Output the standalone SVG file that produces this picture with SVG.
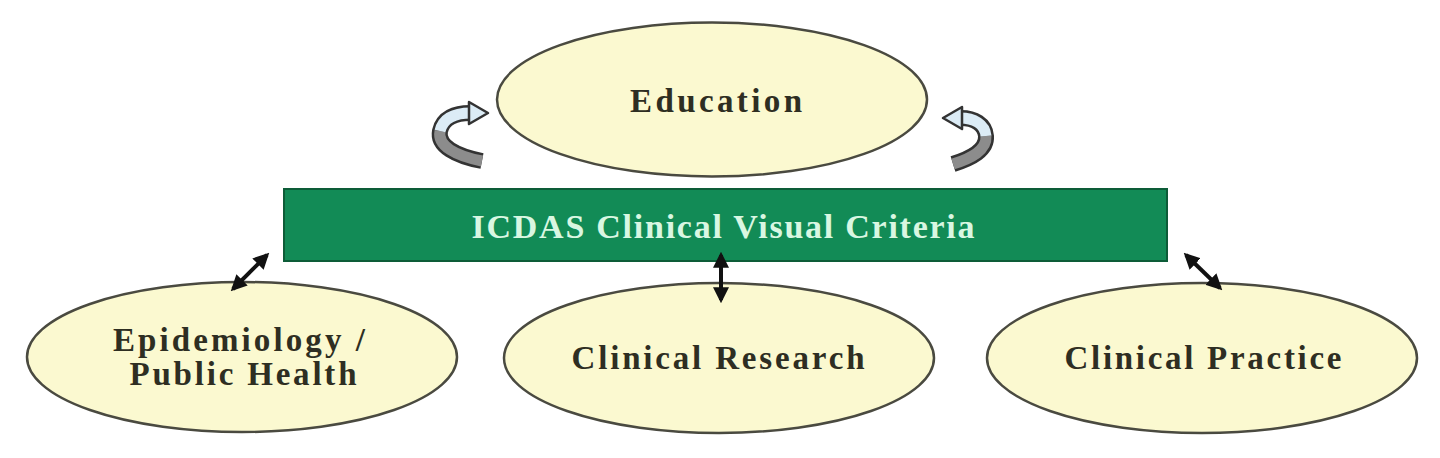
<svg xmlns="http://www.w3.org/2000/svg" width="1440" height="458" viewBox="0 0 1440 458">
<style>
.node ellipse{fill:#fbf9d0;stroke:#4a4a40;stroke-width:2.5}
.lbl{font-family:"Liberation Serif","Times New Roman",serif;font-weight:bold;font-size:33px;fill:#2e2e22;text-anchor:middle}
.bar{fill:#128b56;stroke:#0d5c38;stroke-width:2}
.barlbl{font-family:"Liberation Serif","Times New Roman",serif;font-weight:bold;font-size:34px;fill:#d9f7e2;text-anchor:middle}
.conn{stroke:#111;stroke-width:4;fill:none;marker-start:url(#ah);marker-end:url(#ah)}
.bandOut{fill:none;stroke:#333;stroke-width:16;stroke-linecap:butt}
.bandGray{fill:none;stroke:#8c8c8c;stroke-width:11;stroke-linecap:butt}
.bandBlue{fill:none;stroke:#dcecf6;stroke-width:11;stroke-linecap:butt}
.head{fill:#dcecf6;stroke:#333;stroke-width:2.5;stroke-linejoin:round}
</style>
<defs>
<marker id="ah" viewBox="0 0 10 10" refX="8" refY="5" markerWidth="4" markerHeight="4" orient="auto-start-reverse" markerUnits="strokeWidth">
<path d="M0,0 L10,5 L0,10 z" fill="#111"/>
</marker>
</defs>
<rect width="1440" height="458" fill="#ffffff"/>

<g id="education" class="node">
<ellipse cx="712" cy="99.5" rx="215" ry="77"/>
<text class="lbl" x="716" y="112" textLength="172" lengthAdjust="spacing">Education</text>
</g>

<g id="cycle-left">
<path class="bandOut" d="M482,161 C456,156 437,146 440,131 C443,118 455,113 470,113"/>
<path class="bandGray" d="M482,161 C456,156 437,146 440,131"/>
<path class="bandBlue" d="M440,131 C443,118 455,113 471,113"/>
<polygon class="head" points="469,102 488,113 469,124"/>
</g>

<g id="cycle-right">
<path class="bandOut" d="M953,164 C972,158 987,150 986,136 C985,124 974,118 961,118"/>
<path class="bandGray" d="M953,164 C972,158 987,150 986,136"/>
<path class="bandBlue" d="M986,136 C985,124 974,118 960,118"/>
<polygon class="head" points="962,107 943,118 962,129"/>
</g>

<g id="icdas">
<rect class="bar" x="284" y="189" width="883" height="72"/>
<text class="barlbl" x="723" y="238" textLength="503" lengthAdjust="spacing">ICDAS Clinical Visual Criteria</text>
</g>

<g id="epidemiology" class="node">
<ellipse cx="242" cy="357" rx="215" ry="75"/>
<text class="lbl" x="239" y="351" textLength="252" lengthAdjust="spacing">Epidemiology /</text>
<text class="lbl" x="243" y="385" textLength="227" lengthAdjust="spacing">Public Health</text>
</g>

<g id="research" class="node">
<ellipse cx="719" cy="358" rx="215" ry="75"/>
<text class="lbl" x="718" y="369" textLength="293" lengthAdjust="spacing">Clinical Research</text>
</g>

<g id="practice" class="node">
<ellipse cx="1202" cy="358" rx="215" ry="75"/>
<text class="lbl" x="1203" y="369" textLength="277" lengthAdjust="spacing">Clinical Practice</text>
</g>

<g id="connectors">
<line class="conn" x1="233" y1="289" x2="267" y2="255"/>
<line class="conn" x1="721" y1="255" x2="721" y2="300"/>
<line class="conn" x1="1186" y1="255" x2="1220" y2="288"/>
</g>
</svg>
